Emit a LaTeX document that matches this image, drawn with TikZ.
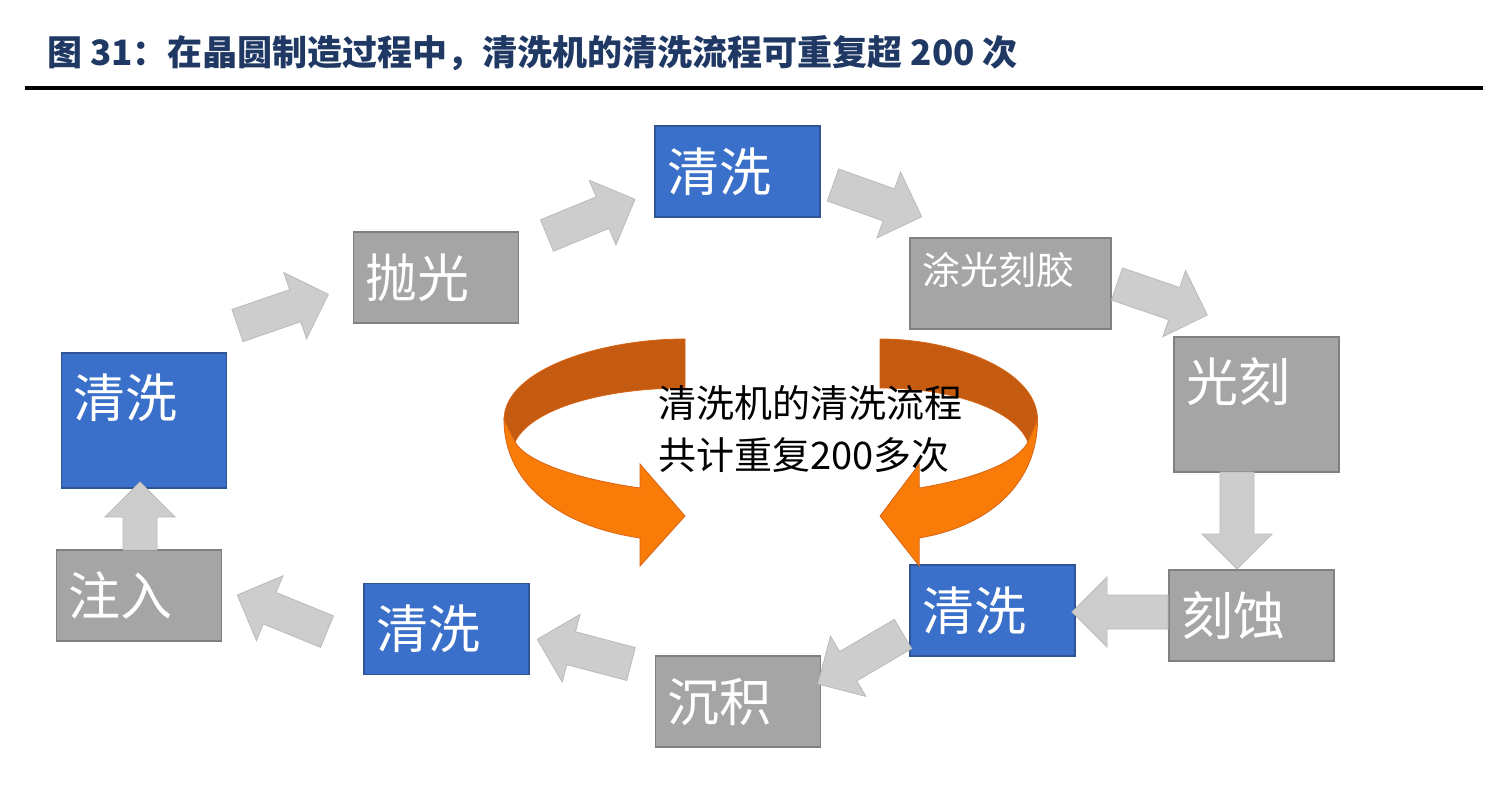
\documentclass[tikz,border=0pt]{standalone}
\usepackage{fontspec}
\usepackage{tikz}
\usetikzlibrary{calc}
\newfontfamily\cjk{Noto Sans CJK SC}
\definecolor{titleblue}{RGB}{31,56,100}
\definecolor{washfill}{RGB}{58,112,201}
\definecolor{washline}{RGB}{47,85,151}
\definecolor{procfill}{RGB}{165,165,165}
\definecolor{procline}{RGB}{128,128,128}
\definecolor{arrfill}{RGB}{205,205,205}
\definecolor{arrline}{RGB}{186,186,186}
\definecolor{orgback}{RGB}{197,90,17}
\definecolor{orgfront}{RGB}{250,124,8}
\definecolor{orgline}{RGB}{214,100,20}

\newcommand\blockarr[2]{%
  \coordinate (bb) at ($(#2)!35pt!(#1)$);
  \filldraw[grayarr] ($(#1)!17pt!90:(#2)$) -- ($(bb)!17pt!90:(#2)$) -- ($(bb)!35pt!90:(#2)$) -- (#2)
    -- ($(bb)!35pt!-90:(#2)$) -- ($(bb)!17pt!-90:(#2)$) -- ($(#1)!17pt!-90:(#2)$) -- cycle;}

\begin{document}
\begin{tikzpicture}[x=1pt, y=-1pt,
    box/.style={draw, line width=1.2pt, minimum height=91, text width=141, inner xsep=12, inner ysep=0,
      align=left, text=white, font=\cjk\fontsize{52}{60}\selectfont},
    washbox/.style={box, fill=washfill, draw=washline},
    procbox/.style={box, fill=procfill, draw=procline},
    tallbox/.style={minimum height=135, text depth=49},
    grayarr/.style={fill=arrfill, draw=arrline, line width=0.8pt},
    ribback/.style={fill=orgback, draw=orgline, line width=0.8pt},
    ribfront/.style={fill=orgfront, draw=orgline, line width=0.8pt}]
    \path[use as bounding box, fill=white] (0,0) rectangle (1496,802);

    \node[anchor=west, inner sep=0, text=titleblue, font=\cjk\bfseries\fontsize{35}{40}\selectfont] (title) at (47,53)
      {图 31：在晶圆制造过程中，清洗机的清洗流程可重复超 200 次};
    \draw[line width=4pt] (25,88) -- (1483,88);

    \node[washbox] (w1) at (737.5,171.5) {清洗};
    \node[procbox] (pol) at (436,277.5) {抛光};
    \node[procbox, text width=177, text depth=31, font=\cjk\fontsize{38}{44}\selectfont] (res) at (1010.5,283.5) {涂光刻胶};
    \node[procbox, tallbox] (lit) at (1256.5,404.5) {光刻};
    \node[procbox] (etc) at (1251.5,615.5) {刻蚀};
    \node[washbox] (w4) at (992.5,610.5) {清洗};
    \node[procbox] (dep) at (738,701.5) {沉积};
    \node[washbox] (w5) at (446.5,629) {清洗};
    \node[procbox] (inj) at (139,595.5) {注入};
    \node[washbox, tallbox] (w0) at (144,420.5) {清洗};

    \coordinate (t1) at (140,550);    \coordinate (h1) at (140,482);
    \coordinate (t2) at (237.5,325.5); \coordinate (h2) at (328.3,294.3);
    \coordinate (t3) at (547,235.5);  \coordinate (h3) at (635,199.3);
    \coordinate (t4) at (833,185);    \coordinate (h4) at (921.7,216.7);
    \coordinate (t5) at (1117,284);   \coordinate (h5) at (1207.3,315);
    \coordinate (t6) at (1237,472);   \coordinate (h6) at (1237,569);
    \coordinate (t7) at (1168,612);   \coordinate (h7) at (1072,612);
    \coordinate (t8) at (903,634);    \coordinate (h8) at (818,684);
    \coordinate (t9) at (631,664);    \coordinate (h9) at (537.3,639.3);
    \coordinate (t10) at (327,631.6); \coordinate (h10) at (237.3,595);
    \blockarr{t1}{h1}
    \blockarr{t2}{h2}
    \blockarr{t3}{h3}
    \blockarr{t4}{h4}
    \blockarr{t5}{h5}
    \blockarr{t6}{h6}
    \blockarr{t7}{h7}
    \blockarr{t8}{h8}
    \blockarr{t9}{h9}
    \blockarr{t10}{h10}

    \filldraw[ribback] (685,339) .. controls (600,339) and (504,370) .. (504,420) -- (515,442)
      .. controls (530,410) and (600,388) .. (685,388) -- cycle;
    \filldraw[ribfront] (504,420) .. controls (504,478) and (552,525) .. (640,538) -- (640,566) -- (685,516)
      -- (640,464) -- (640,488) .. controls (570,478) and (525,460) .. (515,442) -- cycle;
    \begin{scope}[shift={(1476,0)}, xscale=-0.87]
      \filldraw[ribback] (685,339) .. controls (600,339) and (504,370) .. (504,420) -- (515,442)
        .. controls (530,410) and (600,388) .. (685,388) -- cycle;
      \filldraw[ribfront] (504,420) .. controls (504,478) and (552,525) .. (640,538) -- (640,566) -- (685,516)
        -- (640,464) -- (640,488) .. controls (570,478) and (525,460) .. (515,442) -- cycle;
    \end{scope}

    \node[anchor=west, align=left, inner sep=0, font=\cjk\fontsize{38}{52}\selectfont] (note) at (658,429)
      {清洗机的清洗流程\\共计重复200多次};
\end{tikzpicture}
\end{document}
